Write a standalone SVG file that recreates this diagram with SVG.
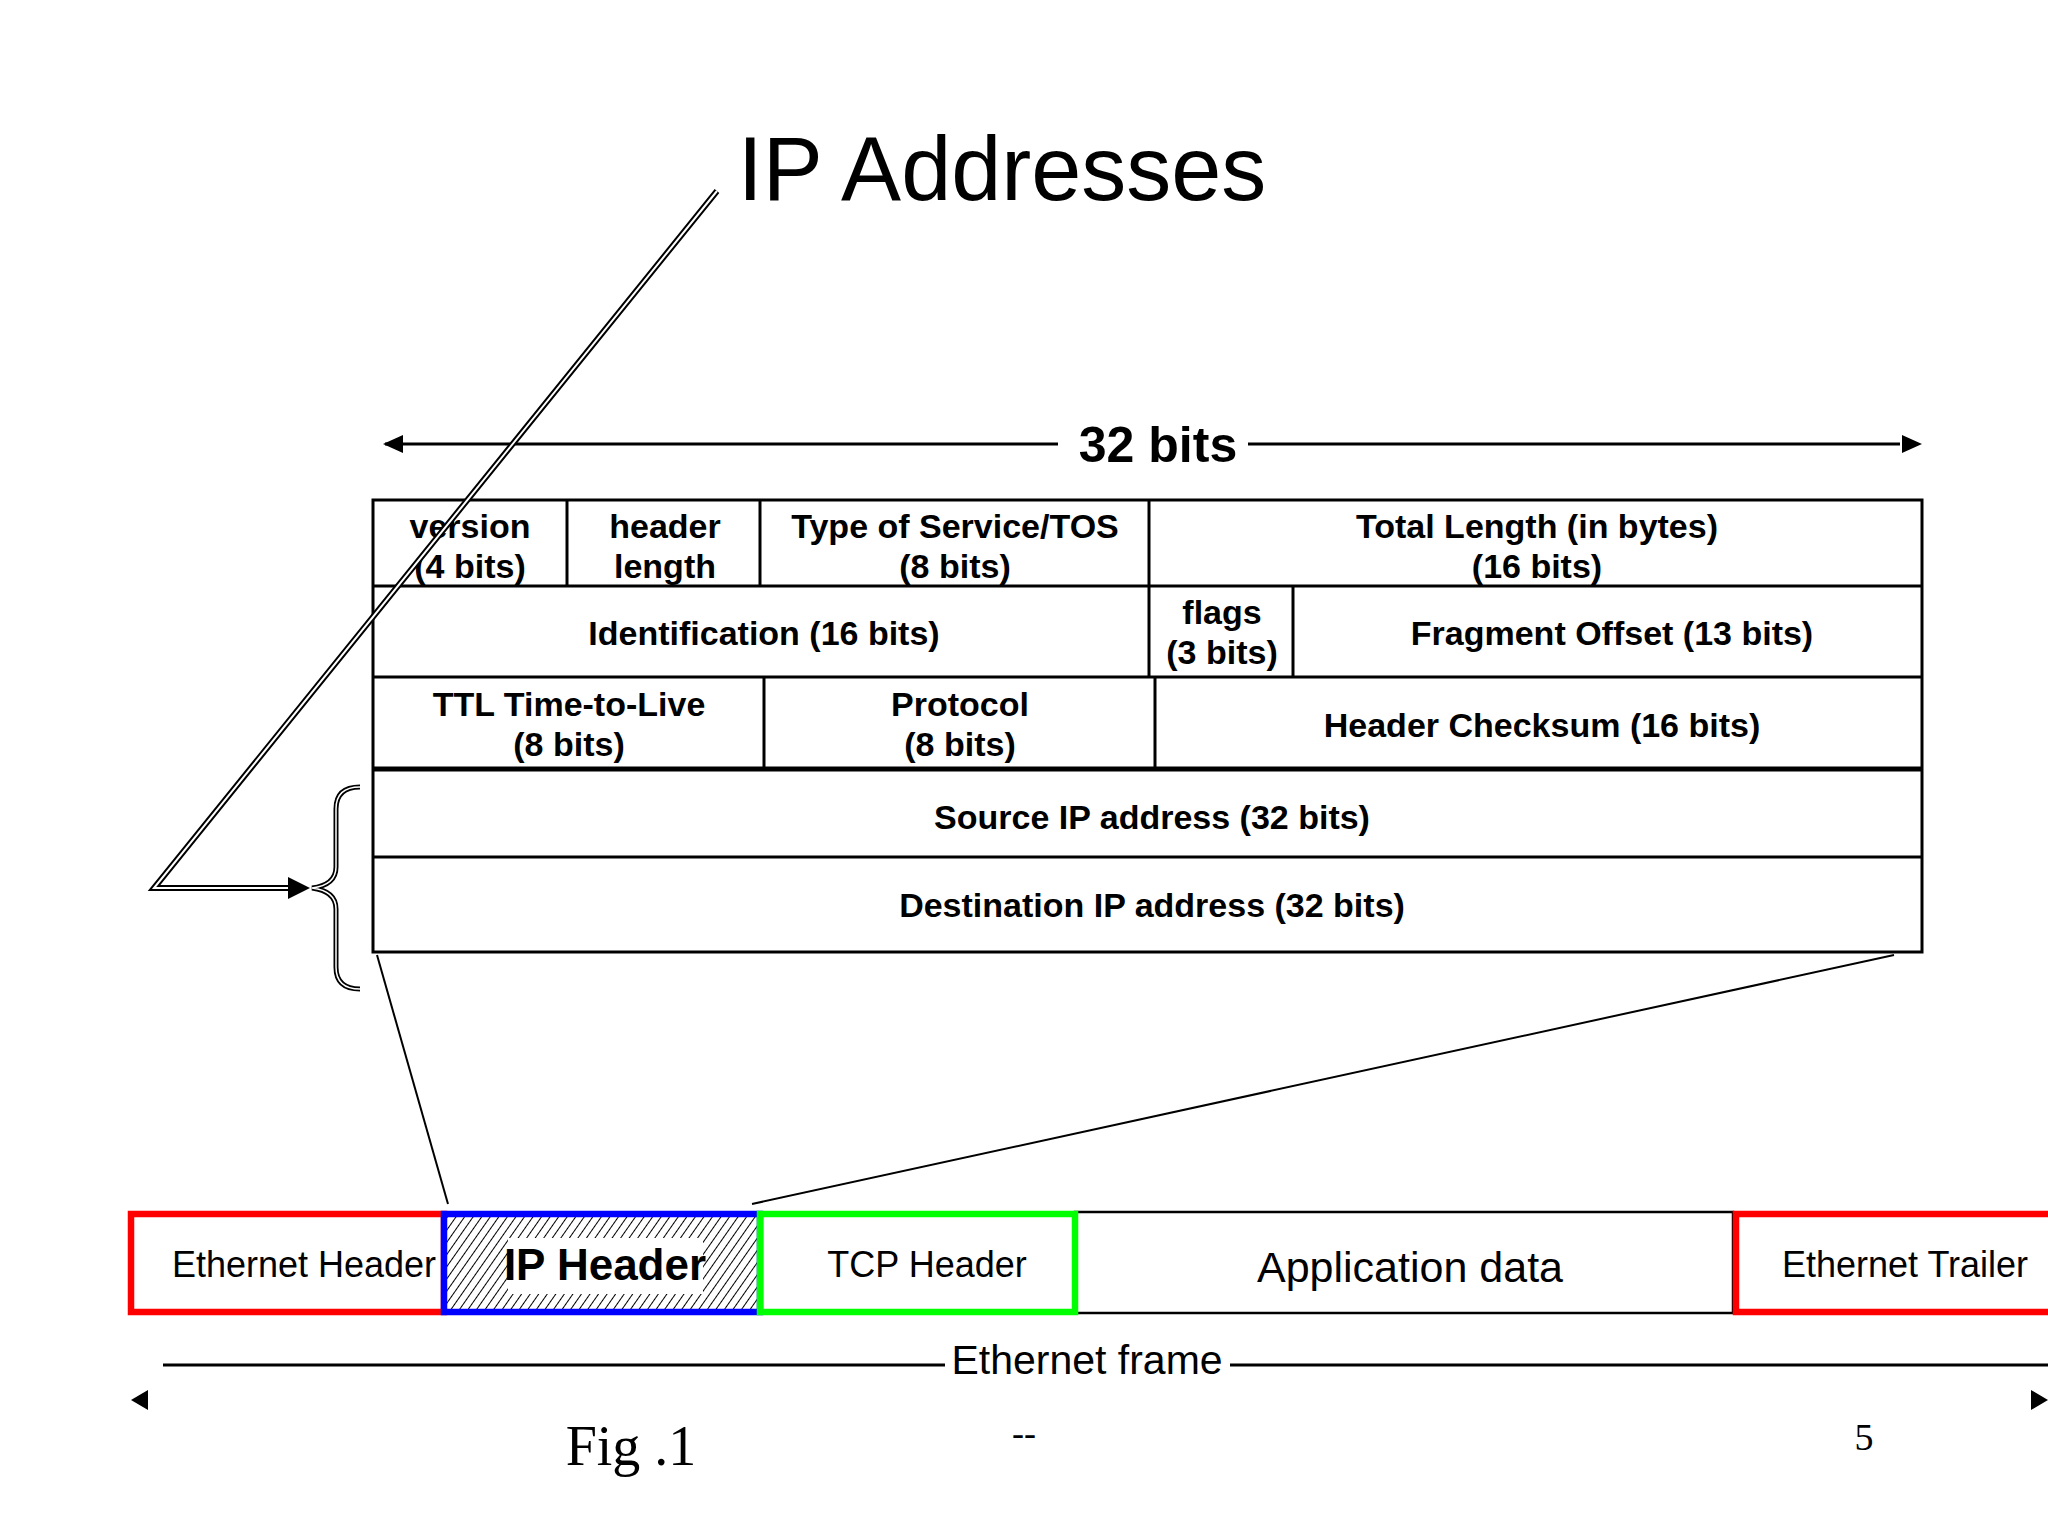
<svg xmlns="http://www.w3.org/2000/svg" width="2048" height="1536" viewBox="0 0 2048 1536">
<style>
.c{font-family:"Liberation Sans",Arial,sans-serif;font-weight:bold;font-size:34px;text-anchor:middle;fill:#000}
.n{font-family:"Liberation Sans",Arial,sans-serif;font-size:36px;text-anchor:middle;fill:#000}
.g{fill:none;stroke:#000;stroke-width:3}
</style>
<defs>
<marker id="ah" viewBox="0 0 10 10" refX="10" refY="5" markerWidth="8" markerHeight="8" orient="auto-start-reverse" markerUnits="userSpaceOnUse"><path d="M0,0 L10,5 L0,10z"/></marker>
<marker id="ah2" viewBox="0 0 10 10" refX="10" refY="5" markerWidth="20" markerHeight="20" orient="auto" markerUnits="userSpaceOnUse"><path d="M0,0 L10,5 L0,10z"/></marker>
<pattern id="hatch" width="7" height="7" patternUnits="userSpaceOnUse" patternTransform="rotate(35)"><rect width="7" height="7" fill="#fff"/><line x1="0" y1="0" x2="0" y2="7" stroke="#000" stroke-width="2"/></pattern>
</defs>
<text x="1002" y="200" font-family="Liberation Sans,Arial,sans-serif" font-size="90" text-anchor="middle">IP Addresses</text>
<g id="bits">
<line x1="385" y1="444" x2="1058" y2="444" stroke="#000" stroke-width="3" marker-start="url(#ah)" style="marker-start:none"/>
<path d="M383,444 l20,-9 v18z"/>
<line x1="1248" y1="444" x2="1900" y2="444" stroke="#000" stroke-width="3"/>
<path d="M1922,444 l-20,-9 v18z"/>
<text x="1158" y="462" class="c" font-size="50" style="font-size:50px">32 bits</text>
</g>
<g id="table" class="g">
<rect x="373" y="500" width="1549" height="452"/>
<line x1="373" y1="586" x2="1922" y2="586"/>
<line x1="373" y1="677" x2="1922" y2="677"/>
<line x1="373" y1="769" x2="1922" y2="769" stroke-width="5"/>
<line x1="373" y1="857" x2="1922" y2="857"/>
<line x1="567" y1="500" x2="567" y2="586"/>
<line x1="760" y1="500" x2="760" y2="586"/>
<line x1="1149" y1="500" x2="1149" y2="677"/>
<line x1="1293" y1="586" x2="1293" y2="677"/>
<line x1="764" y1="677" x2="764" y2="769"/>
<line x1="1155" y1="677" x2="1155" y2="769"/>
</g>
<g id="labels">
<text class="c" x="470" y="538">version</text><text class="c" x="470" y="578">(4 bits)</text>
<text class="c" x="665" y="538">header</text><text class="c" x="665" y="578">length</text>
<text class="c" x="955" y="538">Type of Service/TOS</text><text class="c" x="955" y="578">(8 bits)</text>
<text class="c" x="1537" y="538">Total Length (in bytes)</text><text class="c" x="1537" y="578">(16 bits)</text>
<text class="c" x="764" y="645">Identification (16 bits)</text>
<text class="c" x="1222" y="624">flags</text><text class="c" x="1222" y="664">(3 bits)</text>
<text class="c" x="1612" y="645">Fragment Offset (13 bits)</text>
<text class="c" x="569" y="716">TTL Time-to-Live</text><text class="c" x="569" y="756">(8 bits)</text>
<text class="c" x="960" y="716">Protocol</text><text class="c" x="960" y="756">(8 bits)</text>
<text class="c" x="1542" y="737">Header Checksum (16 bits)</text>
<text class="c" x="1152" y="829">Source IP address (32 bits)</text>
<text class="c" x="1152" y="917">Destination IP address (32 bits)</text>
</g>
<g id="pointer" fill="none" stroke="#000">
<path d="M717,191 L154,888 L300,888" stroke-width="6"/>
<path d="M717,191 L154,888 L300,888" stroke="#fff" stroke-width="2"/>
<path d="M310,888 l-22,-11 v22z" fill="#000" stroke="none"/>
<path d="M360,787 q-24,0 -24,22 v58 q0,18 -24,21 q24,3 24,21 v58 q0,22 24,22" stroke-width="5"/>
<path d="M360,787 q-24,0 -24,22 v58 q0,18 -24,21 q24,3 24,21 v58 q0,22 24,22" stroke="#fff" stroke-width="1.5"/>
</g>
<g id="connectors" stroke="#000" stroke-width="2">
<line x1="377" y1="955" x2="448" y2="1204"/>
<line x1="1894" y1="955" x2="752" y2="1204"/>
</g>
<g id="frame" fill="none" stroke-width="6.5">
<rect x="1075" y="1212" width="658" height="101" stroke="#000" stroke-width="2.5"/>
<rect x="131" y="1214" width="313" height="98" stroke="#f00"/>
<rect x="444" y="1214" width="316" height="98" stroke="#00f" fill="url(#hatch)"/>
<rect x="760" y="1214" width="315" height="98" stroke="#0f0"/>
<rect x="1736" y="1214" width="320" height="98" stroke="#f00"/>
<rect x="508" y="1238" width="195" height="56" fill="#fff" stroke="none"/>
</g>
<g id="frametext">
<text class="n" x="304" y="1277">Ethernet Header</text>
<text class="c" x="605" y="1280" style="font-size:44px">IP Header</text>
<text class="n" x="927" y="1277">TCP Header</text>
<text class="n" x="1410" y="1282" style="font-size:43px">Application data</text>
<text class="n" x="1905" y="1277">Ethernet Trailer</text>
</g>
<g id="ethframe">
<line x1="163" y1="1365" x2="2048" y2="1365" stroke="#000" stroke-width="3"/>
<rect x="945" y="1340" width="285" height="40" fill="#fff"/>
<text class="n" x="1087" y="1374" style="font-size:41px">Ethernet frame</text>
<path d="M131,1400 l17,-10 v20z"/>
<path d="M2048,1400 l-17,-10 v20z"/>
</g>
<text x="631" y="1465" font-family="Liberation Serif,serif" font-size="56" text-anchor="middle">Fig .1</text>
<text x="1024" y="1445" font-family="Liberation Serif,serif" font-size="36" text-anchor="middle">--</text>
<text x="1864" y="1450" font-family="Liberation Serif,serif" font-size="38" text-anchor="middle">5</text>
</svg>
